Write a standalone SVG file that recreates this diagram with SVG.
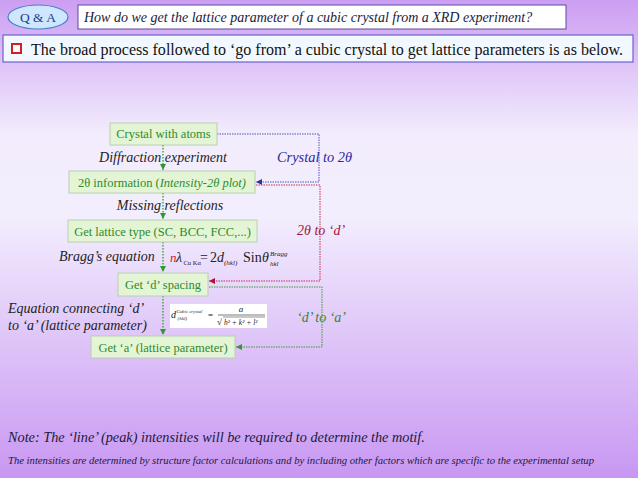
<svg xmlns="http://www.w3.org/2000/svg" width="638" height="478" viewBox="0 0 638 478">
<defs>
<linearGradient id="bg" x1="0" y1="0" x2="0" y2="1">
<stop offset="0" stop-color="#cc9ef2"/>
<stop offset="0.28" stop-color="#f2ecfd"/>
<stop offset="0.45" stop-color="#f3eefe"/>
<stop offset="1" stop-color="#c897f2"/>
</linearGradient>
<marker id="ag" markerWidth="8" markerHeight="8" refX="6" refY="3" orient="auto" markerUnits="userSpaceOnUse"><path d="M0,0 L6,3 L0,6 Z" fill="#2e9a2e"/></marker>
<marker id="ab" markerWidth="8" markerHeight="8" refX="6" refY="3" orient="auto" markerUnits="userSpaceOnUse"><path d="M0,0 L6,3 L0,6 Z" fill="#3030a0"/></marker>
<marker id="ar" markerWidth="8" markerHeight="8" refX="6" refY="3" orient="auto" markerUnits="userSpaceOnUse"><path d="M0,0 L6,3 L0,6 Z" fill="#b01030"/></marker>
<style>
text{font-family:"Liberation Serif","Times New Roman",serif;}
.node rect{fill:#e4f5d6;stroke:#b8d0b0;stroke-width:1;}
.node text{font-size:12.5px;fill:#2e8b2e;text-anchor:middle;}
.lab{font-size:14px;font-style:italic;fill:#222;}
.cg{fill:none;stroke:#2e9a2e;stroke-width:1.3;stroke-dasharray:1.5 1.5;}
.cb{fill:none;stroke:#5050c0;stroke-width:1;stroke-dasharray:1.5 1;}
.cr{fill:none;stroke:#c03050;stroke-width:1;stroke-dasharray:1.5 1;}
.sg{fill:none;stroke:#3a9a3a;stroke-width:1;stroke-dasharray:1.5 1;}
.eq{fill:#222;}
</style>
</defs>
<rect width="638" height="478" fill="url(#bg)"/>

<g id="qa">
<ellipse cx="38" cy="17" rx="30" ry="12" fill="#cfe6ff" stroke="#4a7fd0" stroke-width="1.2"/>
<text x="38" y="22" font-size="13.5" fill="#1f3a8a" text-anchor="middle">Q &amp; A</text>
</g>
<g id="question">
<rect x="78" y="5" width="488" height="24" fill="#ffffff" stroke="#5a4aa0" stroke-width="1"/>
<text x="84" y="22" font-size="14" font-style="italic" fill="#1a1a40">How do we get the lattice parameter of a cubic crystal from a XRD experiment?</text>
</g>
<g id="intro">
<rect x="3" y="35" width="630" height="27" fill="#f2f8ff" stroke="#7060c8" stroke-width="1.2"/>
<rect x="12" y="44" width="9" height="9" fill="#fff" stroke="#d02020" stroke-width="2"/>
<text x="31" y="55" font-size="16.05" fill="#111">The broad process followed to ‘go from’ a cubic crystal to get lattice parameters is as below.</text>
</g>

<g id="connectors">
<line class="cg" x1="163" y1="145" x2="163" y2="170" marker-end="url(#ag)"/>
<line class="cg" x1="163" y1="193" x2="163" y2="219" marker-end="url(#ag)"/>
<line class="cg" x1="163" y1="242" x2="163" y2="272" marker-end="url(#ag)"/>
<line class="cg" x1="163" y1="296" x2="163" y2="335" marker-end="url(#ag)"/>
<path class="cb" d="M217,134 H319 V182 H256" marker-end="url(#ab)"/>
<path class="cr" d="M256,185 H320 V281 H209" marker-end="url(#ar)"/>
<path class="sg" d="M209,287 H322 V347 H236" marker-end="url(#ag)"/>
</g>

<g id="n1" class="node"><rect x="110" y="123" width="107" height="22"/><text x="163.5" y="138">Crystal with atoms</text></g>
<g id="n2" class="node"><rect x="69" y="171" width="186" height="22"/><text x="162" y="187">2θ information (<tspan font-style="italic">Intensity-2θ plot)</tspan></text></g>
<g id="n3" class="node"><rect x="68" y="220" width="189" height="22"/><text x="162.5" y="236">Get lattice type (SC, BCC, FCC,...)</text></g>
<g id="n4" class="node"><rect x="118" y="273" width="90" height="23"/><text x="163" y="289">Get ‘d’ spacing</text></g>
<g id="n5" class="node"><rect x="91" y="336" width="144" height="22"/><text x="163" y="352">Get ‘a’ (lattice parameter)</text></g>

<g id="labels">
<text class="lab" x="163" y="162" text-anchor="middle">Diffraction experiment</text>
<text class="lab" x="170" y="210" text-anchor="middle">Missing reflections</text>
<text class="lab" x="59" y="261">Bragg’s equation</text>
<text class="lab" x="8" y="313">Equation connecting ‘d’</text>
<text class="lab" x="8" y="330">to ‘a’ (lattice parameter)</text>
<text class="lab" x="277" y="162" style="fill:#2a2aa0;font-size:14.4px">Crystal to 2θ</text>
<text class="lab" x="297" y="235" style="fill:#a01840">2θ to ‘d’</text>
<text class="lab" x="297" y="322" style="fill:#2e8b2e">‘d’ to ‘a’</text>
</g>

<g id="bragg">
<text x="170" y="262" font-size="13" font-style="italic" fill="#d02020">n</text>
<text class="eq" x="176" y="262" font-size="14" font-style="italic">λ</text>
<text class="eq" x="183.5" y="265" font-size="6.5">Cu Kα</text>
<text class="eq" x="200" y="262" font-size="14">=</text>
<text class="eq" x="210" y="262" font-size="14">2</text>
<text class="eq" x="217" y="262" font-size="14" font-style="italic">d</text>
<text class="eq" x="224" y="265" font-size="7" font-style="italic">(hkl)</text>
<text class="eq" x="243" y="262" font-size="14">Sin</text>
<text class="eq" x="262" y="262" font-size="14" font-style="italic">θ</text>
<text class="eq" x="270" y="256" font-size="7" font-style="italic">Bragg</text>
<text class="eq" x="270" y="266" font-size="7" font-style="italic">hkl</text>
</g>

<g id="cubic">
<rect x="170" y="304" width="97" height="24" fill="#ffffff"/>
<text class="eq" x="171" y="318" font-size="10" font-style="italic">d</text>
<text class="eq" x="176.5" y="313" font-size="4.8" font-style="italic">Cubic crystal</text>
<text class="eq" x="177.5" y="320" font-size="5" font-style="italic">(hkl)</text>
<text class="eq" x="208" y="318" font-size="9">=</text>
<text class="eq" x="241" y="312" font-size="9" font-style="italic" text-anchor="middle">a</text>
<line x1="218" y1="315" x2="265" y2="315" stroke="#222" stroke-width="0.6"/>
<text class="eq" x="217" y="325" font-size="9">√</text>
<line x1="223" y1="317" x2="265" y2="317" stroke="#222" stroke-width="0.5"/>
<text class="eq" x="224" y="325" font-size="7.5" font-style="italic">h² + k² + l²</text>
</g>

<g id="notes">
<text x="8" y="442" font-size="14.25" font-style="italic" fill="#1a1a3a">Note: The ‘line’ (peak) intensities will be required to determine the motif.</text>
<text x="8" y="464" font-size="10.65" font-style="italic" fill="#1a1a3a">The intensities are determined by structure factor calculations and by including other factors which are specific to the experimental setup</text>
</g>
</svg>
